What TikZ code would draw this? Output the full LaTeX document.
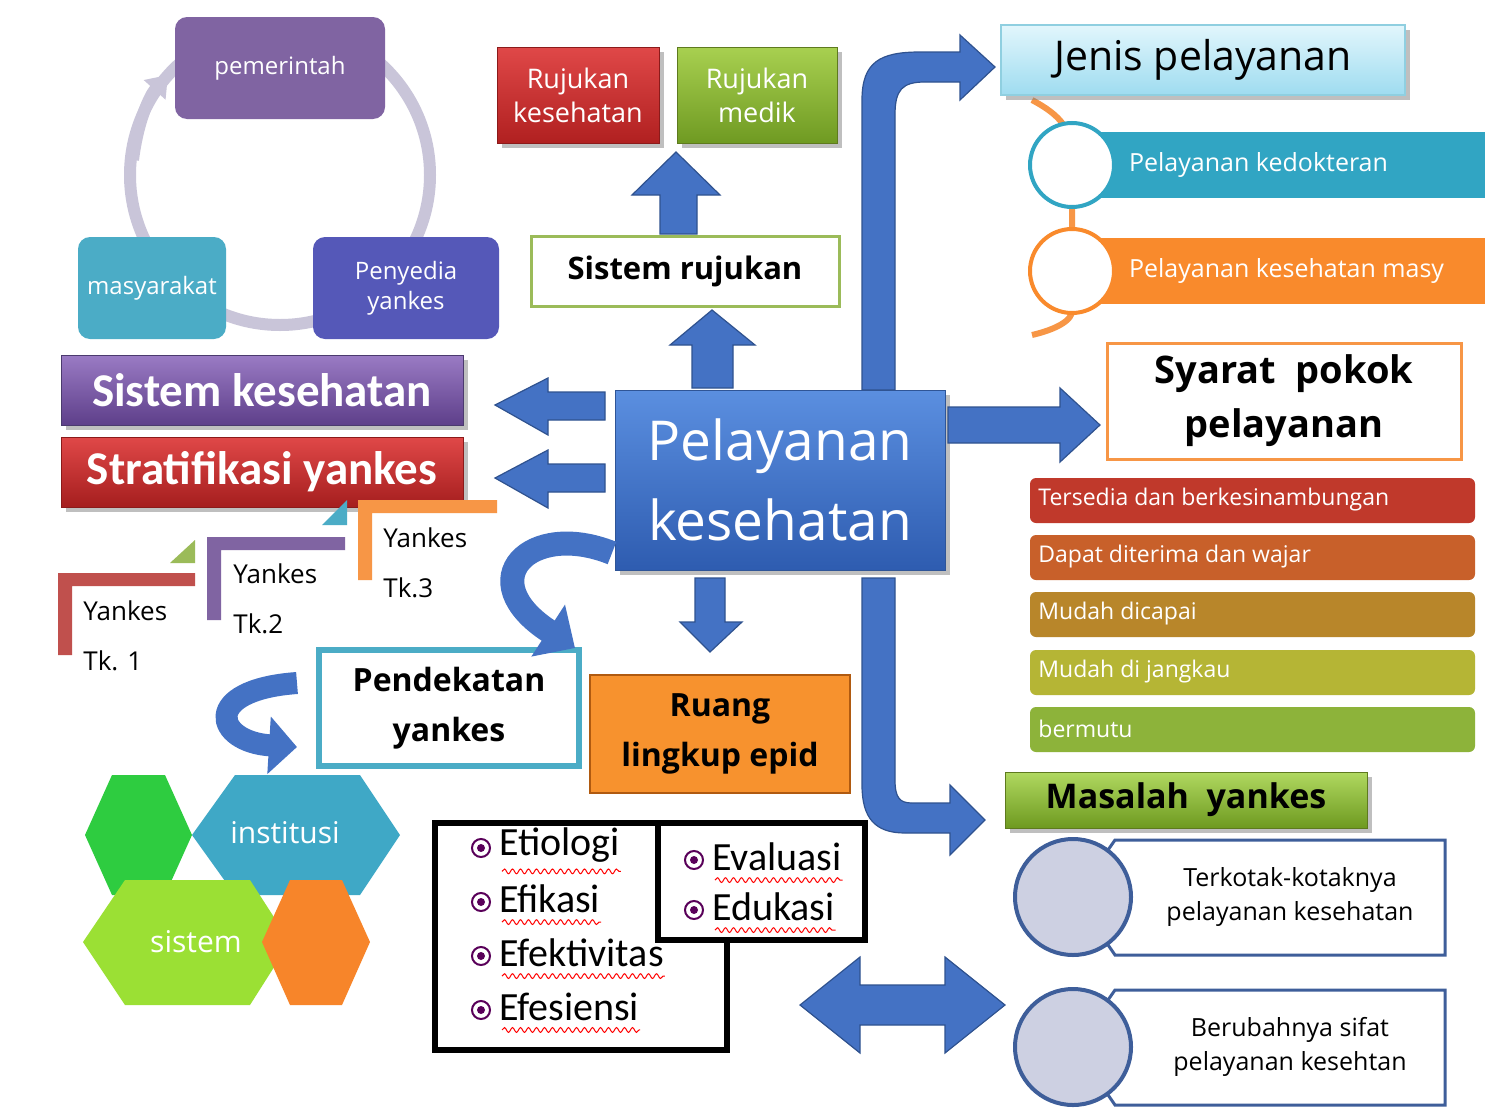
\documentclass[tikz,border=0pt]{standalone}
\usepackage{fontspec}
\setmainfont{Open Sans}
\newfontfamily\calfont{Carlito}
\usetikzlibrary{arrows.meta,decorations.pathmorphing,shadows}
\definecolor{ablue}{HTML}{4472C4}
\definecolor{ablued}{HTML}{2F528F}
\definecolor{arcc}{HTML}{C9C5D9}
\newcommand{\dc}[1]{\definecolor{h#1}{HTML}{#1}}
\dc{8064A2}\dc{4BACC6}\dc{5558B8}\dc{4B3A6E}\dc{9A7BC4}\dc{5E3F8A}\dc{8B1A1A}\dc{E04848}\dc{A51E1E}\dc{C0504D}\dc{9BBB59}\dc{F79646}\dc{2F5597}\dc{5B8FE0}\dc{2E5CB0}\dc{B02020}\dc{5E7A1E}\dc{A8D050}\dc{6F9A22}\dc{8FCFE0}\dc{E2F6FC}\dc{9EDCF0}\dc{31A5C3}\dc{F98A2C}\dc{C0392B}\dc{C8602A}\dc{B8862A}\dc{B5B535}\dc{8DB33A}\dc{B0D860}\dc{6E9A20}\dc{3E5E9A}\dc{CDD0E2}\dc{B05A10}\dc{F7922E}\dc{2ECC40}\dc{3FA8C6}\dc{9BE034}\dc{F7852A}
\tikzset{
 barr/.style={fill=ablue,draw=ablued,line width=0.6pt},
 rbox/.style={rounded corners=6pt,text=white,align=center,inner sep=0pt},
 bar/.style={rounded corners=3pt,text=white,anchor=west,inner sep=0pt,font=\fontsize{11.5}{13}\selectfont},
 lst/.style={font=\calfont\fontsize{20}{22}\selectfont,anchor=west},
 bul/.style={draw=violet!70!black,line width=1pt,fill=white},
 wavy/.style={red,line width=0.5pt,decorate,decoration={snake,amplitude=1.2,segment length=4}},
}
\newcommand{\bulp}[1]{\draw[bul] (#1) circle[radius=9];\fill[violet!70!black] (#1) circle[radius=4];}
\begin{document}
\begin{tikzpicture}[x=0.5pt,y=-0.5pt]
\useasboundingbox (0,0) rectangle (1510,1108);
\fill[white] (0,0) rectangle (1510,1108);
% cycle
\draw[arcc,line width=6pt] (280,175) circle[radius=150];
\draw[arcc,line width=6pt,-{Triangle[length=10pt,width=14pt]}] (133,160) .. controls (138,120) and (150,95) .. (168,75);
\node[rbox,fill=h8064A2,minimum width=105pt,minimum height=51pt,font=\fontsize{12}{14}\selectfont] (gov) at (280,68) {pemerintah};
\node[rbox,fill=h4BACC6,minimum width=74pt,minimum height=51pt,font=\fontsize{12}{14}\selectfont] (mas) at (152,288) {masyarakat};
\node[rbox,fill=h5558B8,minimum width=93pt,minimum height=51pt,font=\fontsize{12}{15}\selectfont] (pen) at (406,288) {Penyedia\\yankes};
% banners
\node[rbox,rounded corners=0pt,draw=h4B3A6E,top color=h9A7BC4,bottom color=h5E3F8A,minimum width=201pt,minimum height=35pt,font=\calfont\bfseries\fontsize{23.5}{25}\selectfont,drop shadow] (sk) at (262,390) {Sistem kesehatan};
\node[rbox,rounded corners=0pt,draw=h8B1A1A,top color=hE04848,bottom color=hA51E1E,minimum width=201pt,minimum height=35pt,font=\calfont\bfseries\fontsize{23.5}{25}\selectfont,drop shadow] (sy) at (262,472) {Stratifikasi yankes};
% stairs
\fill[hC0504D] (58,573) rectangle (195,586) (58,573) rectangle (72,655);
\fill[h9BBB59] (170,563) -- (195,540) -- (195,563) -- cycle;
\fill[h8064A2] (207,537) rectangle (345,550) (207,537) rectangle (221,620);
\fill[h4BACC6] (322,525) -- (347,500) -- (347,525) -- cycle;
\fill[hF79646] (358,500) rectangle (497,513) (358,500) rectangle (372,580);
\node[anchor=north west,align=left,font=\fontsize{13}{25}\selectfont,inner sep=0pt] (y1) at (83,600) {Yankes\\Tk. 1};
\node[anchor=north west,align=left,font=\fontsize{13}{25}\selectfont,inner sep=0pt] (y2) at (233,563) {Yankes\\Tk.2};
\node[anchor=north west,align=left,font=\fontsize{13}{25}\selectfont,inner sep=0pt] (y3) at (383,527) {Yankes\\Tk.3};
% center
\node[rbox,rounded corners=0pt,draw=h2F5597,top color=h5B8FE0,bottom color=h2E5CB0,minimum width=165pt,minimum height=90pt,font=\fontsize{27.5}{40}\selectfont,drop shadow] (pk) at (780,480) {Pelayanan\\kesehatan};
% left arrows
\draw[barr] (605,392) -- (548,392) -- (548,378) -- (495,405) -- (548,435) -- (548,420) -- (605,420) -- cycle;
\draw[barr] (605,464) -- (548,464) -- (548,450) -- (495,478) -- (548,508) -- (548,492) -- (605,492) -- cycle;
% up arrows
\draw[barr] (692,388) -- (692,345) -- (670,345) -- (712,310) -- (755,345) -- (733,345) -- (733,388) -- cycle;
\node[draw=h9BBB59,line width=1.5pt,fill=white,minimum width=154pt,minimum height=35pt,inner sep=0pt,font=\bfseries\fontsize{15.5}{17}\selectfont] (sr) at (685,271) {Sistem rujukan};
\draw[barr] (660,234) -- (660,195) -- (632,195) -- (676,152) -- (720,195) -- (697,195) -- (697,234) -- cycle;
\node[rbox,rounded corners=0pt,draw=h8B1A1A,top color=hE04848,bottom color=hB02020,minimum width=81pt,minimum height=48pt,font=\fontsize{13.5}{17}\selectfont,drop shadow] (rk) at (578,95) {Rujukan\\kesehatan};
\node[rbox,rounded corners=0pt,draw=h5E7A1E,top color=hA8D050,bottom color=h6F9A22,minimum width=80pt,minimum height=48pt,font=\fontsize{13.5}{17}\selectfont,drop shadow] (rm) at (757,95) {Rujukan\\medik};
% big arrows
\draw[barr] (862,390) -- (862,100) .. controls (862,62) and (880,52) .. (920,52) -- (960,52) -- (960,35) -- (995,67) -- (960,100) -- (960,82) -- (925,82) .. controls (902,82) and (895,90) .. (895,115) -- (895,390) -- cycle;
\draw[barr] (862,578) -- (862,785) .. controls (862,818) and (875,833) .. (905,833) -- (950,833) -- (950,855) -- (985,820) -- (950,785) -- (950,803) -- (912,803) .. controls (900,803) and (895,798) .. (895,780) -- (895,578) -- cycle;
\draw[barr] (948,407) -- (1060,407) -- (1060,388) -- (1100,425) -- (1060,462) -- (1060,443) -- (948,443) -- cycle;
\draw[barr] (800,1005) -- (860,957) -- (860,985) -- (945,985) -- (945,957) -- (1005,1005) -- (945,1053) -- (945,1025) -- (860,1025) -- (860,1053) -- cycle;
\draw[barr] (695,578) -- (725,578) -- (725,622) -- (742,622) -- (710,652) -- (680,622) -- (695,622) -- cycle;
% Jenis pelayanan
\draw[hF79646,line width=3pt] (1032,100) .. controls (1060,115) and (1075,130) .. (1072,165) (1072,207) -- (1072,229) (1072,313) .. controls (1068,325) and (1045,332) .. (1032,335);
\node[draw=h8FCFE0,line width=1pt,top color=hE2F6FC,bottom color=h9EDCF0,minimum width=202pt,minimum height=35pt,inner sep=0pt,font=\fontsize{20.5}{22}\selectfont,drop shadow] (jp) at (1203,60) {Jenis pelayanan};
\fill[h31A5C3] (1090,132) rectangle (1485,198);
\fill[hF98A2C] (1090,238) rectangle (1485,304);
\draw[h31A5C3,line width=2pt,fill=white] (1072,165) circle[radius=42];
\draw[hF98A2C,line width=2pt,fill=white] (1072,271) circle[radius=42];
\node[anchor=west,text=white,font=\fontsize{12.5}{14}\selectfont] (pk1) at (1122,165) {Pelayanan kedokteran};
\node[anchor=west,text=white,font=\fontsize{12.5}{14}\selectfont] (pk2) at (1122,271) {Pelayanan kesehatan masy};
% Syarat pokok
\node[draw=hF79646,line width=1.5pt,fill=white,minimum width=177pt,minimum height=58pt,inner sep=0pt,align=center,font=\bfseries\fontsize{19}{27}\selectfont] (sp) at (1284,401) {Syarat\ \ pokok\\pelayanan};
\foreach \y/\c/\t [count=\i] in {478/C0392B/Tersedia dan berkesinambungan,535/C8602A/Dapat diterima dan wajar,592/B8862A/Mudah dicapai,650/B5B535/Mudah di jangkau,707/8DB33A/bermutu}{
 \fill[rounded corners=3pt,h\c] (1030,\y) rectangle (1475,\y+45);
 \node[bar] (b\i) at (1038,\y+22) {\t};
}
% Masalah
\node[draw=h5E7A1E,top color=hB0D860,bottom color=h6E9A20,minimum width=181pt,minimum height=28pt,inner sep=0pt,font=\bfseries\fontsize{17}{19}\selectfont,drop shadow] (my) at (1186,800) {Masalah\ \ yankes};
\foreach \y/\a/\b [count=\i] in {840/Terkotak-kotaknya/pelayanan kesehatan,990/Berubahnya sifat/pelayanan kesehtan}{
 \draw[h3E5E9A,line width=1.5pt,fill=white] (1115,\y) -- (1445,\y) -- (1445,\y+115) -- (1115,\y+115) -- (1075,\y+57) -- cycle;
 \draw[h3E5E9A,line width=2pt,fill=hCDD0E2] (1073,\y+57) circle[radius=58];
 \node[align=center,font=\fontsize{12.5}{17}\selectfont] (m\i) at (1290,\y+57) {\a\\\b};
}
% Ruang lingkup
\node[draw=hB05A10,line width=1pt,fill=hF7922E,minimum width=130pt,minimum height=59pt,inner sep=0pt,align=center,font=\bfseries\fontsize{16}{25}\selectfont] (rl) at (720,734) {Ruang\\lingkup epid};
% pendekatan
\node[draw=h4BACC6,line width=3pt,fill=white,minimum width=130pt,minimum height=58pt,inner sep=0pt,align=center,font=\bfseries\fontsize{16}{25}\selectfont] (pd) at (449,708) {Pendekatan\\yankes};
\draw[ablue,line width=12pt,-{Triangle[length=16pt,width=30pt]}] (612,553) .. controls (530,520) and (470,580) .. (575,648);
\draw[ablue,line width=11pt,-{Triangle[length=14pt,width=28pt]}] (297,683) .. controls (200,690) and (215,742) .. (297,747);
% hexagons
\fill[h2ECC40] (112,775) -- (165,775) -- (192,835) -- (165,895) -- (112,895) -- (85,835) -- cycle;
\fill[h3FA8C6] (235,775) -- (360,775) -- (400,835) -- (360,895) -- (235,895) -- (192,835) -- cycle;
\fill[h9BE034] (125,880) -- (250,880) -- (290,942) -- (250,1005) -- (125,1005) -- (83,942) -- cycle;
\fill[hF7852A] (290,880) -- (342,880) -- (370,942) -- (342,1005) -- (290,1005) -- (262,942) -- cycle;
\node[text=white,font=\fontsize{15}{17}\selectfont] (ins) at (285,833) {institusi};
\node[text=white,font=\fontsize{15}{17}\selectfont] (sis) at (196,942) {sistem};
% lists
\draw[line width=3pt,fill=white] (435,823) rectangle (727,1050);
\draw[line width=3pt,fill=white] (658,823) rectangle (865,940);
\foreach \y/\t [count=\i] in {848/Etiologi,902/Efikasi,956/Efektivitas,1010/Efesiensi}{
 \bulp{481,\y}
 \node[lst] (l\i) at (492,\y-3) {\t};
 \draw[wavy] ([xshift=5pt,yshift=-1pt]l\i.south west) -- ([xshift=-3pt,yshift=-1pt]l\i.south east);
}
\foreach \y/\t [count=\i] in {860/Evaluasi,910/Edukasi}{
 \bulp{694,\y}
 \node[lst] (e\i) at (705,\y-3) {\t};
 \draw[wavy] ([xshift=5pt,yshift=-1pt]e\i.south west) -- ([xshift=-3pt,yshift=-1pt]e\i.south east);
}
\end{tikzpicture}
\end{document}
